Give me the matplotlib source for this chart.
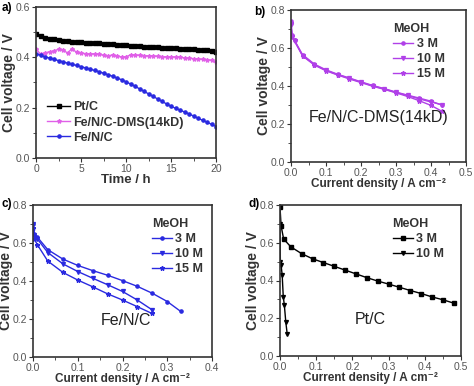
import numpy as np
import matplotlib
matplotlib.use("Agg")
import matplotlib.pyplot as plt
from matplotlib.ticker import MultipleLocator

plt.rcParams['font.family'] = ['Liberation Sans', 'DejaVu Sans']

# panel a: stability, time in h
time_h = np.arange(0, 20.01, 0.5)
pt_c = [0.494, 0.484, 0.478, 0.474, 0.471, 0.468, 0.466, 0.464, 0.462, 0.460,
        0.459, 0.458, 0.457, 0.456, 0.455, 0.453, 0.452, 0.451, 0.450, 0.449,
        0.448, 0.446, 0.445, 0.444, 0.443, 0.442, 0.441, 0.440, 0.439, 0.438,
        0.437, 0.436, 0.435, 0.434, 0.433, 0.432, 0.431, 0.430, 0.428, 0.426, 0.421]
fe_dms = [0.435, 0.412, 0.418, 0.422, 0.426, 0.432, 0.428, 0.418, 0.434, 0.420,
          0.416, 0.415, 0.414, 0.414, 0.412, 0.408, 0.405, 0.410, 0.404, 0.402,
          0.402, 0.410, 0.409, 0.408, 0.407, 0.406, 0.405, 0.404, 0.403, 0.402,
          0.401, 0.402, 0.400, 0.398, 0.396, 0.395, 0.394, 0.392, 0.391, 0.388, 0.380]
fe_nc = [0.415, 0.408, 0.402, 0.397, 0.392, 0.387, 0.382, 0.377, 0.372, 0.368,
         0.363, 0.358, 0.353, 0.348, 0.343, 0.337, 0.331, 0.325, 0.318, 0.311,
         0.303, 0.294, 0.285, 0.275, 0.265, 0.255, 0.245, 0.235, 0.225, 0.215,
         0.205, 0.198, 0.190, 0.183, 0.175, 0.167, 0.158, 0.150, 0.142, 0.134, 0.125]

# panel b: Fe/N/C-DMS(14kD) polarization
b_j = [0.0, 0.003, 0.01, 0.033, 0.067, 0.1, 0.133, 0.167, 0.2, 0.233, 0.267, 0.3, 0.333, 0.367, 0.4, 0.43]
b_3m = [0.74, 0.67, 0.64, 0.565, 0.515, 0.485, 0.462, 0.442, 0.422, 0.403, 0.386, 0.368, 0.352, 0.336, 0.32, 0.30]
b_10m = [0.72, 0.66, 0.635, 0.56, 0.512, 0.482, 0.46, 0.44, 0.42, 0.401, 0.384, 0.366, 0.35, 0.332, 0.316, 0.302]
b_15m = [0.73, 0.665, 0.64, 0.558, 0.51, 0.48, 0.458, 0.437, 0.418, 0.399, 0.382, 0.364, 0.345, 0.322, 0.298, 0.268]

# panel c: Fe/N/C polarization
c_j3 = [0.0, 0.003, 0.01, 0.033, 0.067, 0.1, 0.133, 0.167, 0.2, 0.233, 0.267, 0.3, 0.33]
c_3m = [0.70, 0.65, 0.63, 0.565, 0.515, 0.482, 0.455, 0.43, 0.402, 0.372, 0.335, 0.292, 0.24]
c_j = [0.0, 0.003, 0.01, 0.033, 0.067, 0.1, 0.133, 0.167, 0.2, 0.233, 0.265]
c_10m = [0.70, 0.64, 0.62, 0.55, 0.49, 0.45, 0.415, 0.38, 0.345, 0.30, 0.25]
c_15m = [0.68, 0.62, 0.59, 0.505, 0.445, 0.405, 0.37, 0.332, 0.30, 0.265, 0.23]

# panel d: Pt/C polarization
d_j3 = [0.0, 0.003, 0.01, 0.03, 0.06, 0.09, 0.12, 0.15, 0.18, 0.21, 0.24, 0.27,
        0.30, 0.33, 0.36, 0.39, 0.42, 0.45, 0.48]
d_3m = [0.79, 0.69, 0.62, 0.578, 0.542, 0.515, 0.495, 0.475, 0.455, 0.435, 0.415, 0.397,
        0.381, 0.364, 0.347, 0.331, 0.313, 0.298, 0.28]
d_j10 = [0.0, 0.001, 0.003, 0.006, 0.009, 0.012, 0.016, 0.02]
d_10m = [0.70, 0.50, 0.48, 0.43, 0.315, 0.27, 0.18, 0.115]

W, H = 474, 386
fig = plt.figure(figsize=(W / 100, H / 100), dpi=100)


def make_ax(l, r, t, b):
    ax = fig.add_axes([l / W, 1 - b / H, (r - l) / W, (b - t) / H])
    for s in ax.spines.values():
        s.set_color('#333333')
        s.set_linewidth(1.2)
    ax.tick_params(which='both', direction='out', labelsize=7.5, colors='#333333',
                   labelcolor='#555555', top=False, right=False, pad=1)
    ax.tick_params(which='major', length=3)
    ax.tick_params(which='minor', length=2)
    return ax


ylab = dict(fontsize=10, fontweight='bold', color='#333333')
xlab = dict(fontsize=8.5, fontweight='bold', color='#333333')

# a
ax = make_ax(36, 216, 7, 158)
ax.plot(time_h, pt_c, '-s', color='black', ms=2.3, lw=1, label='Pt/C')
ax.plot(time_h, fe_dms, '-*', color='#e060e8', ms=3, lw=1, label='Fe/N/C-DMS(14kD)')
ax.plot(time_h, fe_nc, '-o', color='#2a2ae0', ms=2.3, lw=1, label='Fe/N/C')
ax.set_xlim(0, 20)
ax.set_ylim(0, 0.6)
ax.xaxis.set_major_locator(MultipleLocator(5))
ax.xaxis.set_minor_locator(MultipleLocator(2.5))
ax.yaxis.set_major_locator(MultipleLocator(0.2))
ax.yaxis.set_minor_locator(MultipleLocator(0.1))
ax.set_xlabel('Time / h', labelpad=0, fontsize=9.5, fontweight='bold', color='#333333')
ax.set_ylabel('Cell voltage / V', labelpad=0, **ylab)
ax.legend(loc='lower left', bbox_to_anchor=(0.0, 0.02), frameon=False,
          prop=dict(size=9, weight='bold'), handlelength=1.8, handletextpad=0.3,
          labelspacing=0.25, labelcolor='#333333')
fig.text(2 / W, 1 - 8 / H, 'a)', fontsize=8.5, fontweight='bold', va='center')


def pol_legend(ax, x, y):
    leg = ax.legend(loc='upper left', bbox_to_anchor=(x, y), frameon=False,
                    title='MeOH', title_fontproperties=dict(size=9, weight='bold'),
                    prop=dict(size=9, weight='bold'), handlelength=1.6,
                    handletextpad=0.3, labelspacing=0.25, labelcolor='#333333')
    leg.get_title().set_color('#333333')
    leg._legend_box.align = 'left'


def pol_axes(ax, xmax):
    ax.set_xlim(0, xmax)
    ax.set_ylim(0, 0.8)
    ax.xaxis.set_major_locator(MultipleLocator(0.1))
    ax.xaxis.set_minor_locator(MultipleLocator(0.05))
    ax.yaxis.set_major_locator(MultipleLocator(0.2))
    ax.yaxis.set_minor_locator(MultipleLocator(0.1))
    ax.set_xlabel('Current density / A cm\u207b\u00b2', labelpad=0, **xlab)
    ax.set_ylabel('Cell voltage / V', labelpad=0, **ylab)


# b
ax = make_ax(291, 466, 10, 162)
col = '#b040e8'
ax.plot(b_j, b_3m, '-o', color=col, ms=2.3, lw=1, label='3 M')
ax.plot(b_j, b_10m, '-v', color=col, ms=2.8, lw=1, label='10 M')
ax.plot(b_j, b_15m, '-*', color=col, ms=3.3, lw=1, label='15 M')
pol_axes(ax, 0.5)
pol_legend(ax, 0.52, 0.99)
ax.text(0.5, 0.29, 'Fe/N/C-DMS(14kD)', transform=ax.transAxes, ha='center',
        va='center', fontsize=11.5, color='#222222')
fig.text(254 / W, 1 - 12 / H, 'b)', fontsize=8.5, fontweight='bold', va='center')

# c
ax = make_ax(33, 212, 205, 357)
col = '#2a2ae0'
ax.plot(c_j3, c_3m, '-o', color=col, ms=2.3, lw=1, label='3 M')
ax.plot(c_j, c_10m, '-v', color=col, ms=2.8, lw=1, label='10 M')
ax.plot(c_j, c_15m, '-*', color=col, ms=3.3, lw=1, label='15 M')
pol_axes(ax, 0.4)
pol_legend(ax, 0.6, 0.99)
ax.text(0.52, 0.24, 'Fe/N/C', transform=ax.transAxes, ha='center',
        va='center', fontsize=11.5, color='#222222')
fig.text(2 / W, 1 - 204 / H, 'c)', fontsize=8.5, fontweight='bold', va='center')

# d
ax = make_ax(280, 461, 205, 356)
ax.plot(d_j3, d_3m, '-s', color='black', ms=2.3, lw=1, label='3 M')
ax.plot(d_j10, d_10m, '-v', color='black', ms=2.8, lw=1, label='10 M')
pol_axes(ax, 0.5)
pol_legend(ax, 0.56, 0.99)
ax.text(0.5, 0.24, 'Pt/C', transform=ax.transAxes, ha='center',
        va='center', fontsize=11.5, color='#222222')
fig.text(248 / W, 1 - 204 / H, 'd)', fontsize=8.5, fontweight='bold', va='center')

fig.savefig('out.png', dpi=100)
